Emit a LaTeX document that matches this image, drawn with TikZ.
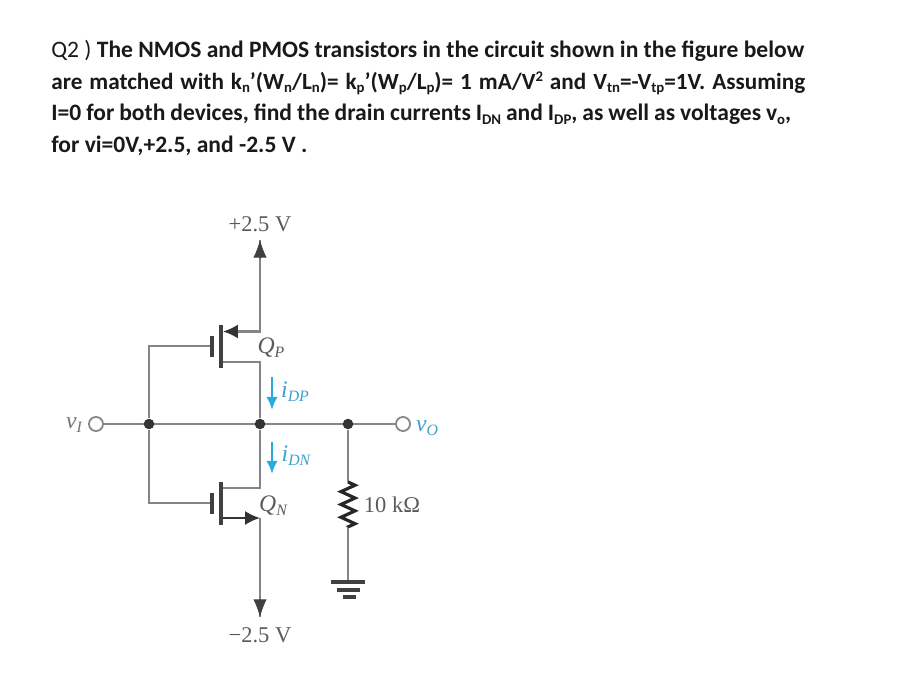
\documentclass[tikz,border=0pt]{standalone}
\usepackage{fontspec}
\setmainfont{Carlito}
\newfontfamily\circuitfont{Liberation Serif}
\usetikzlibrary{arrows.meta,positioning,decorations.pathmorphing,backgrounds}
\definecolor{wiregray}{HTML}{858585}
\definecolor{labelgray}{HTML}{5A5A5A}
\definecolor{currentblue}{HTML}{2AA9E0}
% text subscripts and superscripts of the question
\newcommand{\lowsub}[1]{\raisebox{-0.3ex}{\fontsize{8.4pt}{9pt}\selectfont #1}}
\newcommand{\highsup}[1]{\raisebox{0.7ex}{\fontsize{8.4pt}{9pt}\selectfont #1}}
\newcommand{\symsub}[1]{\raisebox{-0.35ex}{\fontsize{9pt}{10pt}\selectfont #1}}
\tikzset{>=latex,
  textline/.style={anchor=base west,inner sep=0pt,font=\fontsize{13.4pt}{16pt}\selectfont\bfseries,text=black!90},
  wire/.style={wiregray,line width=1.3pt},
  plate/.style={black!75,line width=2pt},
  tip/.style={-{Latex[length=10pt,width=7.5pt]},black!75},
  chantip/.style={-{Latex[length=8.5pt,width=8pt]},black!80,line width=1.2pt},
  dot/.style={circle,fill=black!80,inner sep=0pt,minimum size=6pt},
  openpin/.style={circle,draw=wiregray,fill=white,line width=1pt,inner sep=0pt,minimum size=8pt},
  label/.style={inner sep=0pt,text=labelgray,font=\circuitfont\fontsize{12.8pt}{14pt}\selectfont},
  symb/.style={label,font=\circuitfont\itshape\fontsize{13.5pt}{15pt}\selectfont},
  current/.style={currentblue,line width=1.5pt,-{Latex[length=7.5pt,width=6.5pt]}}
}
\begin{document}
\begin{tikzpicture}[x=0.2mm,y=-0.2mm]
    \useasboundingbox (0,0) rectangle (909,688);
    \node [textline] (line1) at (51,58) {\mdseries Q2 ) \bfseries The NMOS and PMOS transistors in the circuit shown in the figure below};
    \node [textline] (line2) at (51,89.5) {\fontsize{13.2pt}{16pt}\selectfont\spaceskip=0.3em are matched with k\lowsub{n}’(W\lowsub{n}/L\lowsub{n})= k\lowsub{p}’(W\lowsub{p}/L\lowsub{p})= 1 mA/V\highsup{2} and V\lowsub{tn}=-V\lowsub{tp}=1V. Assuming};
    \node [textline] (line3) at (51,121) {\spaceskip=0.21em I=0 for both devices, find the drain currents I\lowsub{DN} and I\lowsub{DP}, as well as voltages v\lowsub{o},};
    \node [textline] (line4) at (51,152) {for vi=0V,+2.5, and -2.5 V .};
    % supply and input labels
    \node [label] (vdd) at (260,224) {+2.5 V};
    \node [label] (vss) at (260,635) {−2.5 V};
    \node [symb,text=black!55] (vi) at (74,425) {v\symsub{I}};
    \node [symb,text=currentblue!70!gray] (vo) at (427,428) {v\symsub{O}};
    \node [label] (rlabel) at (392,505) {10 kΩ};
    \node [symb] (qp) at (271,348) {Q\symsub{P}};
    \node [symb] (qn) at (273,506) {Q\symsub{N}};
    \node [symb,text=currentblue!80!gray] (idp) at (295,392) {i\symsub{DP}};
    \node [symb,text=currentblue!80!gray] (idn) at (296,456) {i\symsub{DN}};
    % junctions and terminals
    \node [openpin] (in) at (96,424) {};
    \node [openpin] (out) at (403,424) {};
    \node [dot] (gnode) at (149,424) {};
    \node [dot] (dnode) at (260,424) {};
    \node [dot] (onode) at (348,424) {};
    \coordinate (top) at (260,240);
    \coordinate (bottom) at (260,617);
    \coordinate (ps) at (260,331.5);
    \coordinate (pneck) at (238,331.5);
    \coordinate (pch) at (223,331.5);
    \coordinate (pd) at (260,362);
    \coordinate (pdch) at (221,362);
    \coordinate (pg) at (212,346);
    \coordinate (pgw) at (149,346);
    \coordinate (nd) at (260,488);
    \coordinate (ndch) at (221,488);
    \coordinate (ns) at (260,518);
    \coordinate (nsch) at (221,518);
    \coordinate (ng) at (212,503);
    \coordinate (ngw) at (149,503);
    \coordinate (rtop) at (348,482);
    \coordinate (rbot) at (348,527);
    \coordinate (gnd) at (348,582);
    % wires
    \begin{scope}[on background layer]
      \draw [wire] (in) -- (out);
      \draw [wire] (pg) -- (pgw) -- (gnode) -- (ngw) -- (ng);
      \draw [wire] (pneck) -- (ps) -- (top);
      \draw [wire] (pdch) -- (pd) -- (dnode) -- (nd) -- (ndch);
      \draw [wire] (ns) -- (bottom);
      \draw [wire] (onode) -- (rtop);
      \draw [wire] (rbot) -- (gnd);
    \end{scope}
    % arrow heads
    \draw [tip] (260,259) -- (top);
    \draw [tip] (260,599) -- (bottom);
    \draw [chantip] (pneck) -- (pch);
    \draw [chantip] (nsch) -- (ns);
    % gate and channel plates
    \draw [plate] (221,325) -- (221,368);
    \draw [plate] (212,336) -- (212,357);
    \draw [plate] (221,482) -- (221,525);
    \draw [plate] (212,493) -- (212,514);
    % resistor and ground
    \draw [black!85,line width=1.8pt,decorate,decoration={zigzag,segment length=7.3pt,amplitude=4pt}] (rtop) -- (rbot);
    \draw [plate] (331,582) -- (365,582);
    \draw [plate] (337,590) -- (360,590);
    \draw [plate] (343,597) -- (356,597);
    % currents
    \draw [current] (272,377) -- (272,410);
    \draw [current] (272,442) -- (272,474);
\end{tikzpicture}
\end{document}
